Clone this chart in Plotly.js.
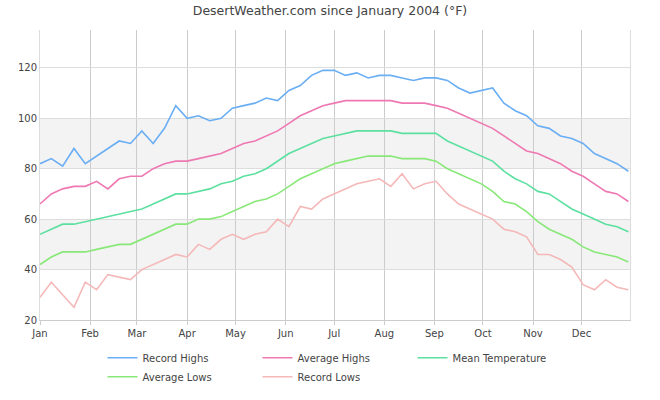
<!DOCTYPE html>
<html><head><meta charset="utf-8">
<script src="https://cdn.plot.ly/plotly-3.0.1.min.js"></script>
<style>body{margin:0}#chart{width:660px;height:400px}</style>
</head><body><div id="chart"></div>
<script>
// weekly samples, day 0 = Jan 1
const weekDays = Array.from({length: 53}, (_, i) => i * 7);
const recordHighs = [82,84,81,88,82, 85,88,91,90, 95,90,96,105, 100,101,99,100,104, 105,106,108,107,
  111,113,117,119, 119,117,118,116,117, 117,116,115,116, 116,115,112,110,111, 112,106,103,101,
  97,96,93,92, 90,86,84,82,79];
const averageHighs = [66,70,72,73,73, 75,72,76,77, 77,80,82,83, 83,84,85,86,88, 90,91,93,95,
  98,101,103,105, 106,107,107,107,107, 107,106,106,106, 105,104,102,100,98, 96,93,90,87,
  86,84,82,79, 77,74,71,70,67];
const meanTemp = [54,56,58,58,59, 60,61,62,63, 64,66,68,70, 70,71,72,74,75, 77,78,80,83,
  86,88,90,92, 93,94,95,95,95, 95,94,94,94, 94,91,89,87,85, 83,79,76,74,
  71,70,67,64, 62,60,58,57,55];
const averageLows = [42,45,47,47,47, 48,49,50,50, 52,54,56,58, 58,60,60,61,63, 65,67,68,70,
  73,76,78,80, 82,83,84,85,85, 85,84,84,84, 83,80,78,76,74, 71,67,66,63,
  59,56,54,52, 49,47,46,45,43];
const recordLows = [29,35,30,25,35, 32,38,37,36, 40,42,44,46, 45,50,48,52,54, 52,54,55,60,
  57,65,64,68, 70,72,74,75,76, 73,78,72,74, 75,70,66,64,62, 60,56,55,53,
  46,46,44,41, 34,32,36,33,32];
const monthLabels = ["Jan","Feb","Mar","Apr","May","Jun","Jul","Aug","Sep","Oct","Nov","Dec"];

const dates = weekDays.map(d => {
  const t = new Date(Date.UTC(2004, 0, 1 + d));
  return t.toISOString().slice(0, 10);
});
const monthTicks = monthLabels.map((_, m) => `2004-${String(m + 1).padStart(2, "0")}-01`);

const series = [
  ["Record Highs", recordHighs, "#6aaef4"],
  ["Average Highs", averageHighs, "#ee78b2"],
  ["Mean Temperature", meanTemp, "#5ce0a0"],
  ["Average Lows", averageLows, "#88e878"],
  ["Record Lows", recordLows, "#f5b8b8"],
];
const data = series.map(([name, ys, color]) => ({
  x: dates, y: ys, name, type: "scatter", mode: "lines",
  line: { color, width: 1.6 },
}));

const band = (y0, y1) => ({
  type: "rect", xref: "paper", yref: "y", x0: 0, x1: 1, y0, y1,
  fillcolor: "#f3f3f3", line: { width: 0 }, layer: "below",
});

const layout = {
  width: 660, height: 400,
  margin: { l: 40, r: 30, t: 30, b: 80, autoexpand: false },
  title: { text: "DesertWeather.com since January 2004 (°F)", x: 0.5, y: 0.985,
    font: { family: "DejaVu Sans", size: 12.5, color: "#444" } },
  font: { family: "DejaVu Sans", size: 10, color: "#444" },
  plot_bgcolor: "#fff", paper_bgcolor: "#fff",
  xaxis: {
    type: "date", range: ["2004-01-01", "2004-12-31"],
    tickvals: monthTicks, ticktext: monthLabels,
    showgrid: true, gridcolor: "#ccc", linecolor: "#ccc", showline: true,
    ticks: "outside", ticklen: 4, tickcolor: "#ccc", zeroline: false,
  },
  yaxis: {
    range: [20, 135], tickvals: [20, 40, 60, 80, 100, 120],
    showgrid: true, gridcolor: "#ddd", zeroline: false,
    showline: true, linecolor: "#ddd", mirror: true,
  },
  shapes: [band(80, 100), band(40, 60)],
  legend: {
    orientation: "h", x: 0.5, xanchor: "center", y: -0.08, yanchor: "top",
    entrywidth: 110, font: { size: 10 }, tracegroupgap: 0,
  },
  showlegend: true,
};
Plotly.newPlot("chart", data, layout, { displayModeBar: false, staticPlot: true });
</script></body></html>
